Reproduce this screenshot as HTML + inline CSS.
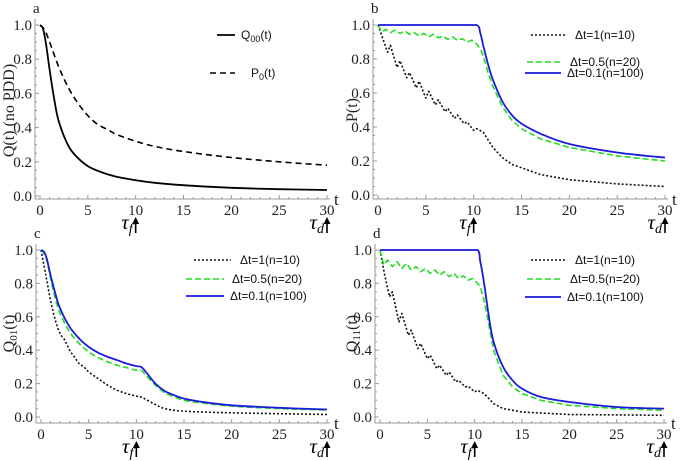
<!DOCTYPE html>
<html><head><meta charset="utf-8"><style>
body{margin:0;background:#fff;width:685px;height:461px;overflow:hidden}
svg{display:block}
.tk{font-family:"Liberation Serif",serif;font-size:15px;fill:#222}
.lg{font-family:"Liberation Sans",sans-serif;font-size:12px;fill:#111}
</style></head><body>
<svg id="chart" width="685" height="461" viewBox="0 0 685 461"></svg>
<script>
// ---- data (t,value pairs) ----
const xTicks=[0,5,10,15,20,25,30];
const yTicks=[0.0,0.2,0.4,0.6,0.8,1.0];
const yTickLabels=["0.0","0.2","0.4","0.6","0.8","1.0"];
const aQ00T=[0,0.3,0.6,1,1.5,2,3,4,5,6,7,8,10,12,15,20,25,30];
const aQ00V=[1,0.98,0.9,0.74,0.56,0.43,0.29,0.22,0.175,0.148,0.128,0.113,0.092,0.077,0.063,0.048,0.04,0.035];
const aP0T=[0,0.5,1,2,3,4,5,6,7,8,10,12,15,20,25,30];
const aP0V=[1,0.97,0.9,0.75,0.63,0.54,0.47,0.42,0.39,0.36,0.32,0.29,0.26,0.225,0.2,0.18];
const bBlueT=[0,10.3,10.7,11,11.5,12,13,14,15,17,20,25,30];
const bBlueV=[1,1,0.95,0.88,0.77,0.68,0.55,0.47,0.42,0.36,0.3,0.25,0.22];
const bGreenT=[0,0.4,0.8,1.3,1.8,2.3,2.8,3.3,3.8,4.3,4.8,5.3,5.8,6.3,6.8,7.3,7.8,8.3,8.8,9.3,9.8,10.3,10.7,11,11.5,12,13,14,15,17,20,25,30];
const bGreenV=[1,0.96,0.975,0.955,0.97,0.95,0.965,0.945,0.955,0.935,0.95,0.93,0.945,0.925,0.935,0.915,0.93,0.91,0.92,0.9,0.91,0.89,0.86,0.82,0.72,0.64,0.52,0.44,0.39,0.33,0.28,0.23,0.2];
const bBlackT=[0,0.5,1,1.3,2,2.3,3,3.3,4,4.3,5,5.3,6,6.3,7,7.3,8,8.3,9,9.3,10,10.3,11,12,13,14,15,17,20,25,30];
const bBlackV=[1,0.92,0.84,0.88,0.75,0.79,0.69,0.72,0.63,0.67,0.57,0.61,0.53,0.56,0.49,0.51,0.45,0.47,0.42,0.43,0.38,0.39,0.37,0.28,0.22,0.18,0.16,0.12,0.09,0.065,0.05];
const cBlueT=[0,0.3,0.6,1,1.5,2,3,4,5,6,7,8,9,10,10.5,11,12,13,14,15,17,20,25,30];
const cBlueV=[1,0.99,0.95,0.85,0.74,0.65,0.54,0.47,0.42,0.385,0.36,0.34,0.32,0.305,0.3,0.27,0.2,0.155,0.13,0.11,0.09,0.07,0.055,0.045];
const cGreenT=[0,0.3,0.6,1,1.5,2,3,4,5,6,7,8,9,10,10.5,11,12,13,14,15,17,20,25,30];
const cGreenV=[1,0.98,0.94,0.83,0.71,0.62,0.51,0.44,0.39,0.355,0.33,0.31,0.295,0.28,0.28,0.25,0.19,0.145,0.12,0.1,0.083,0.065,0.05,0.042];
const cBlackT=[0,0.5,1,1.5,2,2.5,3,3.5,4,4.5,5,6,7,8,9,10,10.5,11,12,13,15,20,30];
const cBlackV=[1,0.85,0.7,0.58,0.5,0.46,0.4,0.36,0.32,0.3,0.27,0.23,0.19,0.16,0.14,0.125,0.12,0.105,0.075,0.05,0.035,0.025,0.015];
const dBlueT=[0,10.3,10.6,11,11.5,12,13,14,15,17,20,25,30];
const dBlueV=[1,1,0.93,0.8,0.6,0.45,0.3,0.22,0.17,0.12,0.09,0.06,0.05];
const dGreenT=[0,0.4,0.8,1.3,1.8,2.3,2.8,3.3,3.8,4.3,4.8,5.3,5.8,6.3,6.8,7.3,7.8,8.3,8.8,9.3,9.8,10.3,10.6,11,11.5,12,13,14,15,17,20,25,30];
const dGreenV=[1,0.91,0.94,0.9,0.93,0.89,0.92,0.88,0.9,0.87,0.89,0.86,0.88,0.85,0.87,0.84,0.86,0.83,0.845,0.82,0.83,0.8,0.78,0.7,0.55,0.4,0.25,0.18,0.14,0.1,0.07,0.05,0.04];
const dBlackT=[0,0.5,1,1.3,2,2.3,3,3.3,4,4.3,5,5.3,6,6.3,7,7.3,8,8.3,9,9.3,10,10.3,11,12,13,15,20,30];
const dBlackV=[1,0.85,0.72,0.75,0.57,0.62,0.49,0.52,0.41,0.44,0.35,0.37,0.29,0.31,0.25,0.27,0.21,0.22,0.18,0.185,0.15,0.16,0.14,0.08,0.05,0.03,0.015,0.01];

const NS="http://www.w3.org/2000/svg";
const svg=document.getElementById('chart');
function el(tag,attrs,parent){const e=document.createElementNS(NS,tag);for(const k in attrs)e.setAttribute(k,attrs[k]);(parent||svg).appendChild(e);return e;}
function clamp(v,a,b){const lo=Math.min(a,b),hi=Math.max(a,b);return Math.max(lo,Math.min(hi,v));}
function smooth(pts){
 let d='M'+pts[0][0].toFixed(1)+','+pts[0][1].toFixed(1);
 for(let i=0;i<pts.length-1;i++){
  const p0=pts[Math.max(0,i-1)],p1=pts[i],p2=pts[i+1],p3=pts[Math.min(pts.length-1,i+2)];
  const k=1/6;
  const c1=[clamp(p1[0]+(p2[0]-p0[0])*k,p1[0],p2[0]),clamp(p1[1]+(p2[1]-p0[1])*k,p1[1],p2[1])];
  const c2=[clamp(p2[0]-(p3[0]-p1[0])*k,p1[0],p2[0]),clamp(p2[1]-(p3[1]-p1[1])*k,p1[1],p2[1])];
  d+=' C'+c1[0].toFixed(1)+','+c1[1].toFixed(1)+' '+c2[0].toFixed(1)+','+c2[1].toFixed(1)+' '+p2[0].toFixed(1)+','+p2[1].toFixed(1);
 }
 return d;
}

const panels=[
 {id:'a',x0:40,x30:327,y1:25,y0:196,ax:35,ay:199,ylab:'Q(t) (no PDD)',ylx:9,
  series:[{t:aQ00T,v:aQ00V,c:'#000',d:'',w:1.8,n:'q00-line',sm:1},{t:aP0T,v:aP0V,c:'#000',d:'6,4',w:1.6,n:'p0-line',sm:1}],
  legend:[{x1:217,x2:235,y:35,tx:241,txt:'Q',sub:'00',rest:'(t)',c:'#000',d:'',w:1.8},{x1:210,x2:235,y:73,tx:251,txt:'P',sub:'0',rest:'(t)',c:'#000',d:'6,4',w:1.6}]},
 {id:'b',x0:378,x30:665,y1:25,y0:195,ax:373,ay:199,ylab:'P(t)',ylx:352,
  series:[{t:bBlackT,v:bBlackV,c:'#111',d:'2,2',w:1.6,n:'dt1-line'},{t:bGreenT,v:bGreenV,c:'#22dd22',d:'6,3',w:1.6,n:'dt05-line'},{t:bBlueT,v:bBlueV,c:'#1a1adc',d:'',w:1.8,n:'dt01-line',sm:1}],
  legend:[{x1:531,x2:566,y:35,tx:575,txt:'Δt=1(n=10)',c:'#111',d:'2,2',w:1.6},{x1:527,x2:563,y:62,tx:570,txt:'Δt=0.5(n=20)',c:'#22dd22',d:'6,3',w:1.6},{x1:525,x2:561,y:73,tx:567,txt:'Δt=0.1(n=100)',c:'#1a1adc',d:'',w:1.8}]},
 {id:'c',x0:41,x30:327,y1:250,y0:417,ax:36,ay:423,ylab:'Q',ylsub:'01',ylrest:'(t)',ylx:9,
  series:[{t:cBlackT,v:cBlackV,c:'#111',d:'2,2',w:1.6,n:'dt1-line',sm:1},{t:cGreenT,v:cGreenV,c:'#22dd22',d:'6,3',w:1.6,n:'dt05-line',sm:1},{t:cBlueT,v:cBlueV,c:'#1a1adc',d:'',w:1.8,n:'dt01-line',sm:1}],
  legend:[{x1:194,x2:231,y:260,tx:240,txt:'Δt=1(n=10)',c:'#111',d:'2,2',w:1.6},{x1:186,x2:224,y:279,tx:232,txt:'Δt=0.5(n=20)',c:'#22dd22',d:'6,3',w:1.6},{x1:186,x2:224,y:296,tx:230,txt:'Δt=0.1(n=100)',c:'#1a1adc',d:'',w:1.8}]},
 {id:'d',x0:380,x30:664,y1:250,y0:417,ax:375,ay:423,ylab:'Q',ylsub:'11',ylrest:'(t)',ylx:352,
  series:[{t:dBlackT,v:dBlackV,c:'#111',d:'2,2',w:1.6,n:'dt1-line'},{t:dGreenT,v:dGreenV,c:'#22dd22',d:'6,3',w:1.6,n:'dt05-line'},{t:dBlueT,v:dBlueV,c:'#1a1adc',d:'',w:1.8,n:'dt01-line',sm:1}],
  legend:[{x1:531,x2:566,y:260,tx:575,txt:'Δt=1(n=10)',c:'#111',d:'2,2',w:1.6},{x1:527,x2:563,y:279,tx:570,txt:'Δt=0.5(n=20)',c:'#22dd22',d:'6,3',w:1.6},{x1:525,x2:561,y:297,tx:567,txt:'Δt=0.1(n=100)',c:'#1a1adc',d:'',w:1.8}]}
];

panels.forEach(p=>{
 const g=el('g',{});
 
 
 const X=t=>p.x0+(p.x30-p.x0)*t/30;
 const Y=v=>p.y0-(p.y0-p.y1)*v;
 const L=el('text',{x:p.ax-2,y:p.y1-12,class:'tk'},g);L.textContent=p.id;
 
 
 const axes=el('g',{stroke:'#999','stroke-width':1},g);
 
 
 el('line',{x1:p.ax,y1:p.y1-6,x2:p.ax,y2:p.ay},axes);
 el('line',{x1:p.ax,y1:p.ay,x2:X(30)+3,y2:p.ay},axes);
 for(let t=0;t<=30;t++){const maj=t%5===0;el('line',{x1:X(t),y1:p.ay,x2:X(t),y2:p.ay-(maj?4:2)},axes);}
 for(let i=0;i<=20;i++){const v=i*0.05;const maj=i%4===0;el('line',{x1:p.ax,y1:Y(v),x2:p.ax+(maj?4:2),y2:Y(v)},axes);}
 xTicks.forEach(t=>{const e=el('text',{x:X(t),y:p.ay+16,'text-anchor':'middle',class:'tk'},g);e.textContent=t;
  });
 yTicks.forEach((v,i)=>{const e=el('text',{x:p.ax-3,y:Y(v)+5,'text-anchor':'end',class:'tk'},g);e.textContent=yTickLabels[i];
  });
 const tl=el('text',{x:X(30)+7,y:p.ay+6,class:'tk',style:'font-size:17px'},g);tl.textContent='t';
 
 [[10,'f','tau-f-marker'],[30,'d','tau-d-marker']].forEach(([t,s,n])=>{
  const mg=el('g',{},g);
  const tx=el('text',{x:X(t)-3,y:p.ay+30,'text-anchor':'end',class:'tk',style:'font-size:21px;font-style:italic;fill:#000'},mg);
  tx.innerHTML='τ<tspan style="font-size:14px" dy="4">'+s+'</tspan>';
  el('line',{x1:X(t),y1:p.ay+34,x2:X(t),y2:p.ay+20,stroke:'#000','stroke-width':1.6},mg);
  el('path',{d:`M${X(t)-3.5},${p.ay+25} L${X(t)},${p.ay+18} L${X(t)+3.5},${p.ay+25} Z`,fill:'#000'},mg);
 });
 const yl=el('text',{x:0,y:0,class:'tk','text-anchor':'middle',style:'font-size:16px',transform:`translate(${p.ylx+5},${(p.y0+p.y1)/2}) rotate(-90)`},g);
 
 if(p.ylsub)yl.innerHTML=p.ylab+'<tspan style="font-size:11px" dy="3">'+p.ylsub+'</tspan><tspan dy="-3">'+p.ylrest+'</tspan>';
 else yl.textContent=p.ylab;
 p.series.forEach(s=>{
  const pts=s.t.map((t,i)=>[X(t),Y(s.v[i])]);
  const d=s.sm?smooth(pts):pts.map((q,i)=>(i?'L':'M')+q[0].toFixed(1)+','+q[1].toFixed(1)).join(' ');
  const e=el('path',{d:d,fill:'none',stroke:s.c,'stroke-width':s.w,'stroke-dasharray':s.d||'none','stroke-linejoin':'round'},g);
  
 });
 const lg=el('g',{},g);
 p.legend.forEach(l=>{
  const le=el('g',{},lg);
  el('line',{x1:l.x1,y1:l.y,x2:l.x2,y2:l.y,stroke:l.c,'stroke-width':l.w,'stroke-dasharray':l.d||'none'},le);
  const t=el('text',{x:l.tx,y:l.y+4,class:'lg'},le);
  if(l.sub)t.innerHTML=l.txt+'<tspan style="font-size:9px" dy="3">'+l.sub+'</tspan><tspan dy="-3">'+l.rest+'</tspan>';
  else t.textContent=l.txt;
 });
});
</script>
</body></html>
